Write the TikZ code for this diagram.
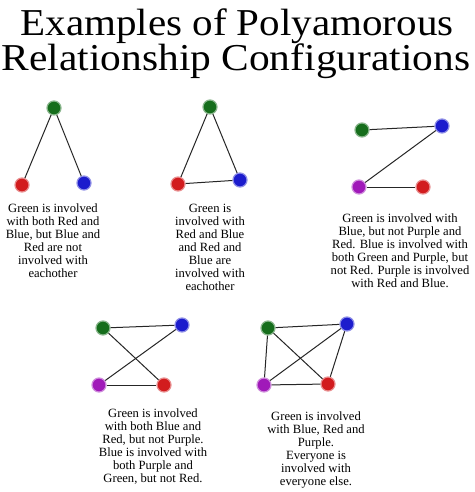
\documentclass[tikz,border=0pt]{standalone}
\usepackage{fontspec}
\usepackage{graphicx}
\setmainfont{Liberation Serif}
\definecolor{pgreen}{RGB}{22,110,28}
\definecolor{pred}{RGB}{210,28,30}
\definecolor{pblue}{RGB}{28,28,205}
\definecolor{ppurple}{RGB}{160,25,185}
\tikzset{
  dot/.style={circle, fill=#1, minimum size=14pt, inner sep=0pt,
    draw=#1!50!white, line width=1.2pt},
  link/.style={line width=1pt, black!85},
  caption/.style={align=center, anchor=north, inner sep=0pt,
    font=\fontsize{12.6}{13}\selectfont},
  titletext/.style={anchor=base, inner sep=0pt, font=\fontsize{38}{40}\selectfont}
}
\begin{document}
\begin{tikzpicture}[x=1pt,y=-1pt]
\useasboundingbox[fill=white] (0,0) rectangle (474,492);
% title
\node[titletext] (t1) at (237,36) {\scalebox{1.08}[1]{Examples of Polyamorous}};
\node[titletext] (t2) at (236,71) {\scalebox{1.09}[1]{Relationship Configurations}};

% diagram 1
\node[dot=pgreen] (g1) at (54,108) {};
\node[dot=pred] (r1) at (22,185) {};
\node[dot=pblue] (b1) at (84,183) {};
\draw[link] (g1) -- (r1);
\draw[link] (g1) -- (b1);
\node[caption] (c1) at (53,204) {Green is involved\\with both Red and\\Blue, but Blue and\\Red are not\\involved with\\eachother};

% diagram 2
\node[dot=pgreen] (g2) at (210,107) {};
\node[dot=pred] (r2) at (178,184) {};
\node[dot=pblue] (b2) at (240,180) {};
\draw[link] (g2) -- (r2);
\draw[link] (g2) -- (b2);
\draw[link] (r2) -- (b2);
\node[caption] (c2) at (210,204) {Green is\\involved with\\Red and Blue\\and Red and\\Blue are\\involved with\\eachother};

% diagram 3
\node[dot=pgreen] (g3) at (362,130) {};
\node[dot=pblue] (b3) at (442,126) {};
\node[dot=ppurple] (p3) at (359,187) {};
\node[dot=pred] (r3) at (423,187) {};
\draw[link] (g3) -- (b3);
\draw[link] (b3) -- (p3);
\draw[link] (p3) -- (r3);
\node[caption] (c3) at (400,214) {Green is involved with\\Blue, but not Purple and\\Red. Blue is involved with\\both Green and Purple, but\\not Red. Purple is involved\\with Red and Blue.};

% diagram 4
\node[dot=pgreen] (g4) at (103,328) {};
\node[dot=pblue] (b4) at (182,325) {};
\node[dot=ppurple] (p4) at (99,385) {};
\node[dot=pred] (r4) at (164,385) {};
\draw[link] (g4) -- (b4);
\draw[link] (g4) -- (r4);
\draw[link] (b4) -- (p4);
\draw[link] (p4) -- (r4);
\node[caption] (c4) at (153,409) {Green is involved\\with both Blue and\\Red, but not Purple.\\Blue is involved with\\both Purple and\\Green, but not Red.};

% diagram 5
\node[dot=pgreen] (g5) at (268,328) {};
\node[dot=pblue] (b5) at (347,324) {};
\node[dot=ppurple] (p5) at (264,385) {};
\node[dot=pred] (r5) at (328,384) {};
\draw[link] (g5) -- (b5);
\draw[link] (g5) -- (r5);
\draw[link] (g5) -- (p5);
\draw[link] (b5) -- (p5);
\draw[link] (b5) -- (r5);
\draw[link] (p5) -- (r5);
\node[caption] (c5) at (316,412) {Green is involved\\with Blue, Red and\\Purple.\\Everyone is\\involved with\\everyone else.};
\end{tikzpicture}
\end{document}
